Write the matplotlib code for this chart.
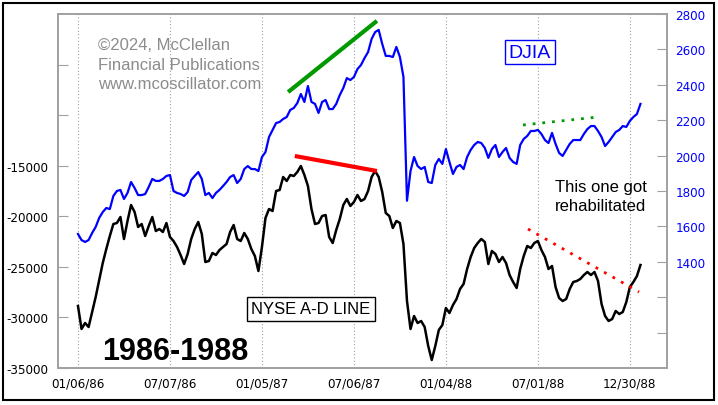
import matplotlib
matplotlib.use('Agg')
import matplotlib.pyplot as plt
from matplotlib.patches import Rectangle

plt.rcParams['font.family'] = ['Liberation Sans', 'DejaVu Sans']

# weekly closes, week 0 = 01/06/86
weeks = list(range(160))

djia = [1557, 1523, 1512, 1523, 1563, 1597, 1648, 1681, 1704, 1698,
        1772, 1800, 1806, 1755, 1789, 1851, 1817, 1777, 1777, 1783,
        1823, 1868, 1857, 1857, 1868, 1885, 1890, 1800, 1789, 1783,
        1772, 1794, 1862, 1885, 1907, 1868, 1777, 1789, 1760, 1789,
        1806, 1828, 1851, 1879, 1890, 1845, 1868, 1924, 1941, 1924,
        1924, 1913, 1992, 2020, 2105, 2145, 2184, 2190, 2207, 2218,
        2258, 2269, 2297, 2348, 2303, 2393, 2303, 2292, 2241, 2303,
        2314, 2263, 2263, 2292, 2342, 2382, 2438, 2427, 2444, 2489,
        2512, 2551, 2585, 2659, 2698, 2710, 2631, 2563, 2563, 2557,
        2614, 2557, 2445, 1745, 1913, 1992, 1941, 1924, 1936, 1851,
        1845, 1947, 1981, 1953, 2037, 1964, 1896, 1936, 1947, 1924,
        1992, 2032, 2060, 2077, 2071, 2043, 1987, 2037, 2060, 1992,
        2020, 2043, 1987, 1964, 1953, 2060, 2094, 2111, 2139, 2139,
        2145, 2122, 2088, 2071, 2128, 2066, 2015, 1998, 2032, 2066,
        2088, 2088, 2088, 2122, 2150, 2167, 2167, 2139, 2105, 2054,
        2077, 2105, 2133, 2145, 2167, 2162, 2196, 2218, 2235, 2292]

adline = [-28870, -31144, -30551, -30946, -29463, -27980, -26299, -24619, -23234, -21949,
          -20763, -20664, -20071, -22246, -20466, -18884, -19576, -21059, -20763, -21949,
          -20960, -20071, -21455, -21257, -21554, -20664, -22048, -22444, -23037, -23828,
          -24718, -23729, -22246, -21257, -20565, -21751, -24520, -24421, -23630, -23828,
          -23333, -23037, -22740, -21554, -20862, -22246, -22444, -21653, -22246, -23234,
          -23927, -25410, -23037, -20169, -19280, -19477, -17500, -17401, -16116, -16511,
          -15918, -16017, -15621, -15028, -15918, -17006, -19280, -20763, -20664, -19972,
          -19873, -22048, -22641, -21356, -20268, -18884, -18291, -18983, -18588, -17895,
          -18489, -18291, -17500, -16116, -15523, -16116, -17599, -19675, -19972, -21158,
          -20466, -20664, -22740, -28376, -31144, -29859, -30551, -30353, -30946, -32825,
          -34209, -32825, -31243, -30749, -29068, -29562, -28771, -28178, -27189, -26695,
          -25212, -24025, -23136, -22641, -22246, -22542, -24718, -23432, -23729, -24520,
          -24025, -24619, -25805, -26497, -27090, -25212, -23927, -22938, -23136, -22641,
          -22444, -23333, -24025, -25212, -24915, -26992, -28079, -28376, -28178, -27189,
          -26497, -26398, -26201, -25805, -25508, -25805, -25508, -26398, -28672, -29859,
          -30353, -30155, -29364, -29661, -29463, -28475, -26992, -26497, -25904, -24816]

date_ticks = [0, 26, 52, 78, 104, 130, 156]
date_labels = ['01/06/86', '07/07/86', '01/05/87', '07/06/87', '01/04/88', '07/01/88', '12/30/88']

ad_ticks = [-35000, -30000, -25000, -20000, -15000, -10000, -5000]
ad_labels = ['-35000', '-30000', '-25000', '-20000', '-15000', '', '']
dj_ticks = [1000, 1200, 1400, 1600, 1800, 2000, 2200, 2400, 2600, 2800]
dj_labels = ['', '', '1400', '1600', '1800', '2000', '2200', '2400', '2600', '2800']

# trend lines (week, value)
green_x, green_y = [59.4, 84.5], [2359, 2761]
red_x, red_y = [61.3, 84.5], [-14040, -15523]
green_dot_x, green_dot_y = [125.8, 147.0], [2173, 2218]
red_dot_x, red_dot_y = [127.2, 158.6], [-21257, -27486]

W, H = 718, 406
fig = plt.figure(figsize=(W / 100, H / 100), dpi=100)
ax = fig.add_axes([58 / W, 1 - 369 / H, (667 - 58) / W, (369 - 15) / H])
ax2 = ax.twinx()

grey = '#a0a0a0'

ax.plot(weeks, adline, color='black', lw=1.8, zorder=3)
ax.plot(red_x, red_y, color='#ff0000', lw=3, solid_capstyle='butt', zorder=4)
ax.plot(red_dot_x, red_dot_y, color='#ff0000', lw=2, linestyle=(0, (1, 2.5)), zorder=4)
ax.set_ylim(-35000, 0)
ax.set_xlim(-5.65, 166.5)
ax.set_yticks(ad_ticks, ad_labels)
ax.set_xticks(date_ticks, date_labels)
ax.grid(axis='x', color=grey, linestyle=(0, (1, 2)), lw=0.8)
ax.tick_params(axis='y', direction='in', length=7, color=grey, pad=7, labelsize=9.5)
ax.tick_params(axis='x', length=0, pad=6, labelsize=9.5)

ax2.plot(weeks, djia, color='#0000ff', lw=1.6, zorder=3)
ax2.plot(green_x, green_y, color='#009900', lw=3, solid_capstyle='butt', zorder=4)
ax2.plot(green_dot_x, green_dot_y, color='#009900', lw=2, linestyle=(0, (1, 2.5)), zorder=4)
ax2.set_ylim(800, 2800)
ax2.set_yticks(dj_ticks, dj_labels)
ax2.tick_params(axis='y', direction='in', length=7, color=grey, pad=6, labelsize=9.5, labelcolor='#0000ff')

for a in (ax, ax2):
    for s in a.spines.values():
        s.set_color(grey)
        s.set_linewidth(1.2)
    for lab in a.get_xticklabels() + a.get_yticklabels():
        lab.set_family(['DejaVu Sans'])
        lab.set_fontstretch('condensed')

def px(x, y):
    return x / W, 1 - y / H

copy_grey = '#8c8c8c'
fig.text(*px(98, 50), '\u00a92024, McClellan', fontsize=12, color=copy_grey, va='baseline')
fig.text(*px(98, 70), 'Financial Publications', fontsize=12, color=copy_grey, va='baseline')
fig.text(*px(98, 89), 'www.mcoscillator.com', fontsize=12, color=copy_grey, va='baseline')

fig.text(*px(530, 53), 'DJIA', fontsize=14, color='#0000ff', ha='center', va='center',
         bbox=dict(boxstyle='square,pad=0.2', fc='white', ec='#0000ff', lw=1))
fig.text(*px(311, 310), 'NYSE A-D LINE', fontsize=12, color='black', ha='center', va='center',
         bbox=dict(boxstyle='square,pad=0.25', fc='white', ec='black', lw=1))
fig.text(*px(555, 192), 'This one got', fontsize=12, color='black', va='baseline')
fig.text(*px(555, 211), 'rehabilitated', fontsize=12, color='black', va='baseline')
fig.text(*px(102, 360), '1986-1988', fontsize=22, fontweight='bold', color='black', va='baseline')

fig.add_artist(Rectangle((3 / W, 5 / H), 711 / W, 397 / H, transform=fig.transFigure,
                         fill=False, ec='black', lw=1.5))

fig.savefig('out.png', dpi=100)
